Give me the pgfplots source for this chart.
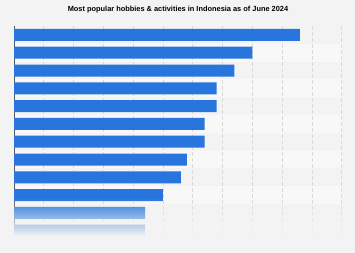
\documentclass[border=0pt]{standalone}
\usepackage{pgfplots}
\pgfplotsset{compat=1.18}
\usepackage{fontspec}
\setmainfont{Liberation Sans}
\usetikzlibrary{fadings}
\definecolor{bgc}{HTML}{F3F3F3}
\definecolor{band}{HTML}{F8F8F8}
\definecolor{barblue}{HTML}{2876DD}
\definecolor{gridc}{HTML}{DADADA}
\begin{document}
\begin{tikzpicture}
\fill[bgc] (0,0) rectangle (355bp,253bp);
\foreach \k in {2,4,...,12}{
  \fill[band] (14bp,{(227-(\k-1)*17.8)*1bp}) rectangle (341.7bp,{(227-\k*17.8)*1bp});
}
\node[anchor=base, inner sep=0pt, font=\bfseries\fontsize{7.4bp}{8.5bp}\selectfont] at (178bp,241.3bp) {Most popular hobbies \& activities in Indonesia as of June 2024};
\begin{axis}[
  at={(14bp,13.4bp)}, anchor=south west,
  scale only axis, width=327.7bp, height=213.6bp,
  xbar, bar width=12bp,
  xmin=0, xmax=55, ymin=0.5, ymax=12.5, y dir=reverse,
  xtick={0,5,...,55}, xticklabel={}, ytick=\empty,
  major tick length=0pt,
  xmajorgrids,
  grid style={gridc, dash pattern=on 4bp off 2bp, line width=0.6bp},
  axis y line*=left, axis x line*=bottom,
  x axis line style={draw=none},
  y axis line style={draw=black!65, line width=0.9bp},
]
\addplot[fill=barblue, draw=none] coordinates {
  (48,1) (40,2) (37,3) (34,4) (34,5) (32,6) (32,7) (29,8) (28,9) (25,10) (22,11) (22,12)};
\end{axis}
\fill[bgc, path fading=north] (8bp,17bp) rectangle (348bp,55bp);
\fill[bgc] (8bp,0bp) rectangle (348bp,17.05bp);
\end{tikzpicture}
\end{document}
